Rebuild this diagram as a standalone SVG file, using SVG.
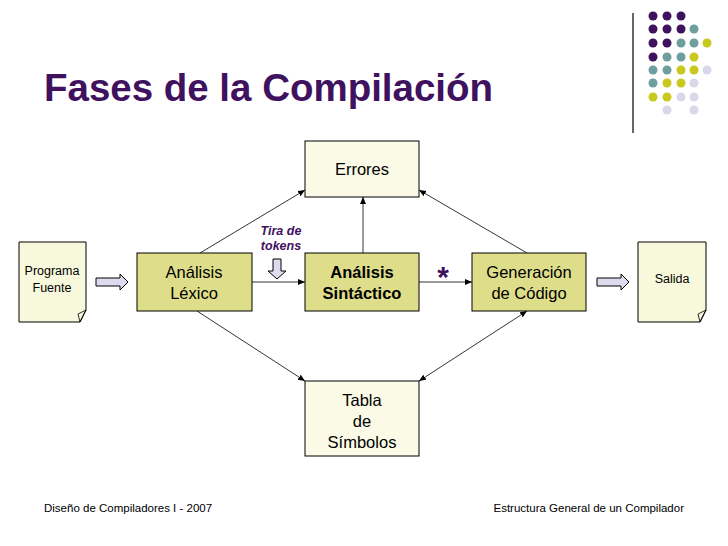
<svg xmlns="http://www.w3.org/2000/svg" width="728" height="546" viewBox="0 0 728 546">
<style>
text{font-family:"Liberation Sans",Arial,sans-serif;fill:#000}
.doc{fill:#f8f8dc;stroke:#000;stroke-width:1}
.box{fill:#dede8a;stroke:#000;stroke-width:1}
.lt{fill:#fafae6;stroke:#000;stroke-width:1}
.ln{stroke:#000;stroke-width:0.8;fill:none}
.blk{fill:#dcdcee;stroke:#000;stroke-width:1}
.P{fill:#3f1260}.T{fill:#6e9e9e}.Y{fill:#c8c81e}.L{fill:#d8d8ea}
</style>
<defs>
<marker id="ah" markerWidth="8" markerHeight="8" refX="7" refY="3" orient="auto-start-reverse" markerUnits="userSpaceOnUse"><path d="M0,0 L7,3 L0,6 z" fill="#000"/></marker>
</defs>
<rect width="728" height="546" fill="#fff"/>
<g id="deco">
<line x1="633" y1="13" x2="633" y2="133" stroke="#000" stroke-width="1.2"/>
<g>
<circle class="P" cx="653" cy="16" r="4.5"/><circle class="P" cx="667" cy="16" r="4.5"/><circle class="P" cx="681" cy="16" r="4.5"/>
<circle class="P" cx="653" cy="29" r="4.5"/><circle class="P" cx="667" cy="29" r="4.5"/><circle class="P" cx="681" cy="29" r="4.5"/><circle class="T" cx="694" cy="29" r="4.5"/>
<circle class="P" cx="653" cy="43" r="4.5"/><circle class="P" cx="667" cy="43" r="4.5"/><circle class="T" cx="681" cy="43" r="4.5"/><circle class="T" cx="694" cy="43" r="4.5"/><circle class="Y" cx="707" cy="43" r="4.5"/>
<circle class="P" cx="653" cy="57" r="4.5"/><circle class="T" cx="667" cy="57" r="4.5"/><circle class="T" cx="681" cy="57" r="4.5"/><circle class="Y" cx="694" cy="57" r="4.5"/>
<circle class="T" cx="653" cy="70" r="4.5"/><circle class="T" cx="667" cy="70" r="4.5"/><circle class="Y" cx="681" cy="70" r="4.5"/><circle class="Y" cx="694" cy="70" r="4.5"/><circle class="L" cx="707" cy="70" r="4.5"/>
<circle class="T" cx="653" cy="83" r="4.5"/><circle class="Y" cx="667" cy="83" r="4.5"/><circle class="Y" cx="681" cy="83" r="4.5"/><circle class="L" cx="694" cy="83" r="4.5"/>
<circle class="Y" cx="653" cy="97" r="4.5"/><circle class="Y" cx="667" cy="97" r="4.5"/><circle class="L" cx="681" cy="97" r="4.5"/><circle class="L" cx="694" cy="97" r="4.5"/>
<circle class="L" cx="667" cy="110" r="4.5"/><circle class="L" cx="694" cy="110" r="4.5"/>
</g>
<text x="44" y="101" font-size="38" font-weight="bold" textLength="449" lengthAdjust="spacingAndGlyphs" style="fill:#3f1260">Fases de la Compilación</text>
<text x="44" y="512" font-size="11.5">Diseño de Compiladores I - 2007</text>
<text x="684" y="512" font-size="11.5" text-anchor="end">Estructura General de un Compilador</text>
</g>
<g id="connectors">
<line class="ln" x1="200" y1="253" x2="305" y2="190" marker-end="url(#ah)"/>
<line class="ln" x1="527" y1="253" x2="419" y2="190" marker-end="url(#ah)"/>
<line class="ln" x1="363" y1="253" x2="363" y2="197" marker-end="url(#ah)"/>
<line class="ln" x1="252" y1="282" x2="305" y2="282" marker-end="url(#ah)"/>
<line class="ln" x1="419" y1="282" x2="472" y2="282" marker-end="url(#ah)"/>
<line class="ln" x1="197" y1="311" x2="305" y2="381" marker-end="url(#ah)"/>
<line class="ln" x1="527" y1="311" x2="419" y2="381" marker-start="url(#ah)" marker-end="url(#ah)"/>
<path class="blk" d="M96,278 H120 V274 L128,282 L120,290 V286 H96 Z"/>
<path class="blk" d="M597,278 H621 V274 L629,282 L621,290 V286 H597 Z"/>
<path class="blk" d="M273,259 H281 V271 H286 L277,279 L268,271 H273 Z"/>
<text x="281" y="235" font-size="12.5" font-weight="bold" font-style="italic" text-anchor="middle" style="fill:#3f1260">Tira de</text>
<text x="281" y="250" font-size="12.5" font-weight="bold" font-style="italic" text-anchor="middle" style="fill:#3f1260">tokens</text>
<text x="443" y="287" font-size="30" font-weight="bold" text-anchor="middle" style="fill:#3f1260">*</text>
</g>
<g id="programa">
<path class="doc" d="M19,242 H86 V310 L80,322 H19 Z"/>
<path class="ln" d="M86,310 L80,322 L78,314 Z"/>
<text x="52" y="275" font-size="12.5" text-anchor="middle">Programa</text>
<text x="52" y="292" font-size="12.5" text-anchor="middle">Fuente</text>
</g>
<g id="lexico">
<rect class="box" x="137" y="253" width="115" height="58"/>
<text x="194" y="278" font-size="16.5" text-anchor="middle">Análisis</text>
<text x="194" y="299" font-size="16.5" text-anchor="middle">Léxico</text>
</g>
<g id="sintactico">
<rect class="box" x="305" y="253" width="114" height="58" stroke-width="3"/>
<text x="362" y="278" font-size="16.5" font-weight="bold" text-anchor="middle">Análisis</text>
<text x="362" y="299" font-size="16.5" font-weight="bold" text-anchor="middle">Sintáctico</text>
</g>
<g id="generacion">
<rect class="box" x="472" y="253" width="114" height="58"/>
<text x="529" y="278" font-size="16.5" text-anchor="middle">Generación</text>
<text x="529" y="299" font-size="16.5" text-anchor="middle">de Código</text>
</g>
<g id="salida">
<path class="doc" d="M638,242 H706 V310 L700,322 H638 Z"/>
<path class="ln" d="M706,310 L700,322 L698,314 Z"/>
<text x="672" y="283" font-size="12.5" text-anchor="middle">Salida</text>
</g>
<g id="errores">
<rect class="lt" x="305" y="141" width="114" height="56"/>
<text x="362" y="175" font-size="16.5" text-anchor="middle">Errores</text>
</g>
<g id="tabla">
<rect class="lt" x="305" y="381" width="114" height="75"/>
<text x="362" y="406" font-size="16.5" text-anchor="middle">Tabla</text>
<text x="362" y="427" font-size="16.5" text-anchor="middle">de</text>
<text x="362" y="448" font-size="16.5" text-anchor="middle">Símbolos</text>
</g>
</svg>
